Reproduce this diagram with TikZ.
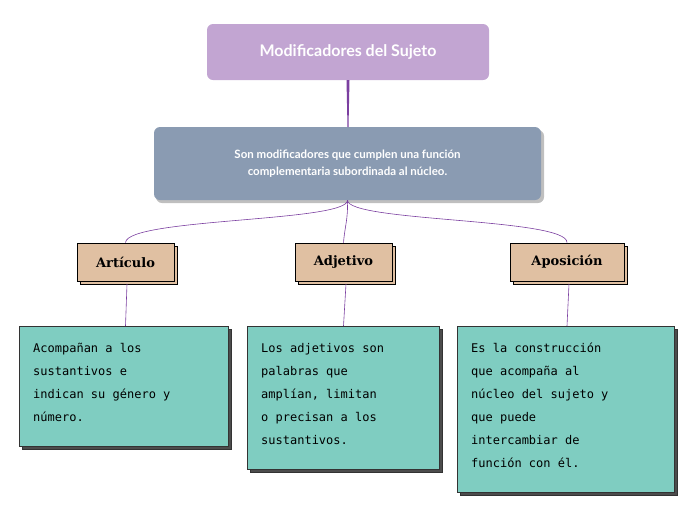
\documentclass[tikz,border=0pt]{standalone}
\usepackage{fontspec}
\setmainfont{Lato}
\newfontfamily\monof{DejaVu Sans Mono}
\newfontfamily\slabf{DejaVu Serif}
\definecolor{titlec}{HTML}{C2A5D2}
\definecolor{descc}{HTML}{8A9BB2}
\definecolor{headc}{HTML}{E0C0A2}
\definecolor{tealc}{HTML}{7FCDC1}
\definecolor{linec}{HTML}{7B3FA0}
\begin{document}
\begin{tikzpicture}[x=1pt,y=-1pt,
 titlebox/.style={fill=titlec,rounded corners=6pt,text=white,font=\bfseries\fontsize{16}{18}\selectfont,minimum width=282pt,minimum height=56pt,inner sep=0pt},
 descbox/.style={fill=descc,rounded corners=6pt,text=white,font=\bfseries\fontsize{11.5}{17}\selectfont,minimum width=387pt,minimum height=73pt,align=center,inner sep=0pt},
 headbox/.style={fill=headc,draw=black,thick,font=\slabf\bfseries\fontsize{13}{15}\selectfont,minimum height=38pt,inner sep=0pt},
 headsh/.style={fill=headc,draw=black,thick},
 textbox/.style={fill=tealc,draw=black!80,thick},
 textsh/.style={fill=black!70,draw=black!80,thick},
 body/.style={anchor=north west,font=\monof\fontsize{12}{23}\selectfont,align=left,inner sep=0pt},
 conn/.style={draw=linec,semithick}]
\useasboundingbox (0,0) rectangle (696,520);
\node[titlebox] (t) at (348,52) {Modificadores del Sujeto};
\fill[black!25,rounded corners=6pt] (156,130) rectangle (544,203);
\node[descbox] (d) at (347.5,163.5) {Son modificadores que cumplen una función\\complementaria subordinada al núcleo.};
% header shadows
\draw[headsh] (80,246) rectangle (177,284);
\draw[headsh] (298,246) rectangle (395,284);
\draw[headsh] (513,246) rectangle (627,284);
\node[headbox,minimum width=97pt] (h1) at (125.5,262) {Artículo};
\node[headbox,minimum width=97pt] (h2) at (343.5,262) {Adjetivo};
\node[headbox,minimum width=114pt] (h3) at (567,262) {Aposición};
% text boxes
\draw[textsh] (22,329) rectangle (231,449);
\draw[textsh] (250,329) rectangle (442,472);
\draw[textsh] (460,329) rectangle (677,495);
\node[textbox,anchor=north west,minimum width=209pt,minimum height=120pt,inner sep=0pt] (b1) at (19,326) {};
\node[textbox,anchor=north west,minimum width=192pt,minimum height=143pt,inner sep=0pt] (b2) at (247,326) {};
\node[textbox,anchor=north west,minimum width=217pt,minimum height=166pt,inner sep=0pt] (b3) at (457,326) {};
\node[body] (x1) at (33,343) {Acompañan a los\\sustantivos e\\indican su género y\\número.};
\node[body] (x2) at (261,343) {Los adjetivos son\\palabras que\\amplían, limitan\\o precisan a los\\sustantivos.};
\node[body] (x3) at (471,343) {Es la construcción\\que acompaña al\\núcleo del sujeto y\\que puede\\intercambiar de\\función con él.};
\fill[linec] (346.5,80) -- (349.5,80) -- (348.5,127) -- (347.5,127) -- cycle;
\draw[conn] (d.south) .. controls (348,222) and (127,218) .. (h1.north);
\draw[conn] (d.south) .. controls (348,220) and (345,225) .. (h2.north);
\draw[conn] (d.south) .. controls (348,222) and (568,218) .. (h3.north);
\draw[conn] (127,284) -- (b1.north-|h1.south);
\draw[conn] (346,284) -- (b2.north-|h2.south);
\draw[conn] (569,284) -- (b3.north-|h3.south);
\end{tikzpicture}
\end{document}
